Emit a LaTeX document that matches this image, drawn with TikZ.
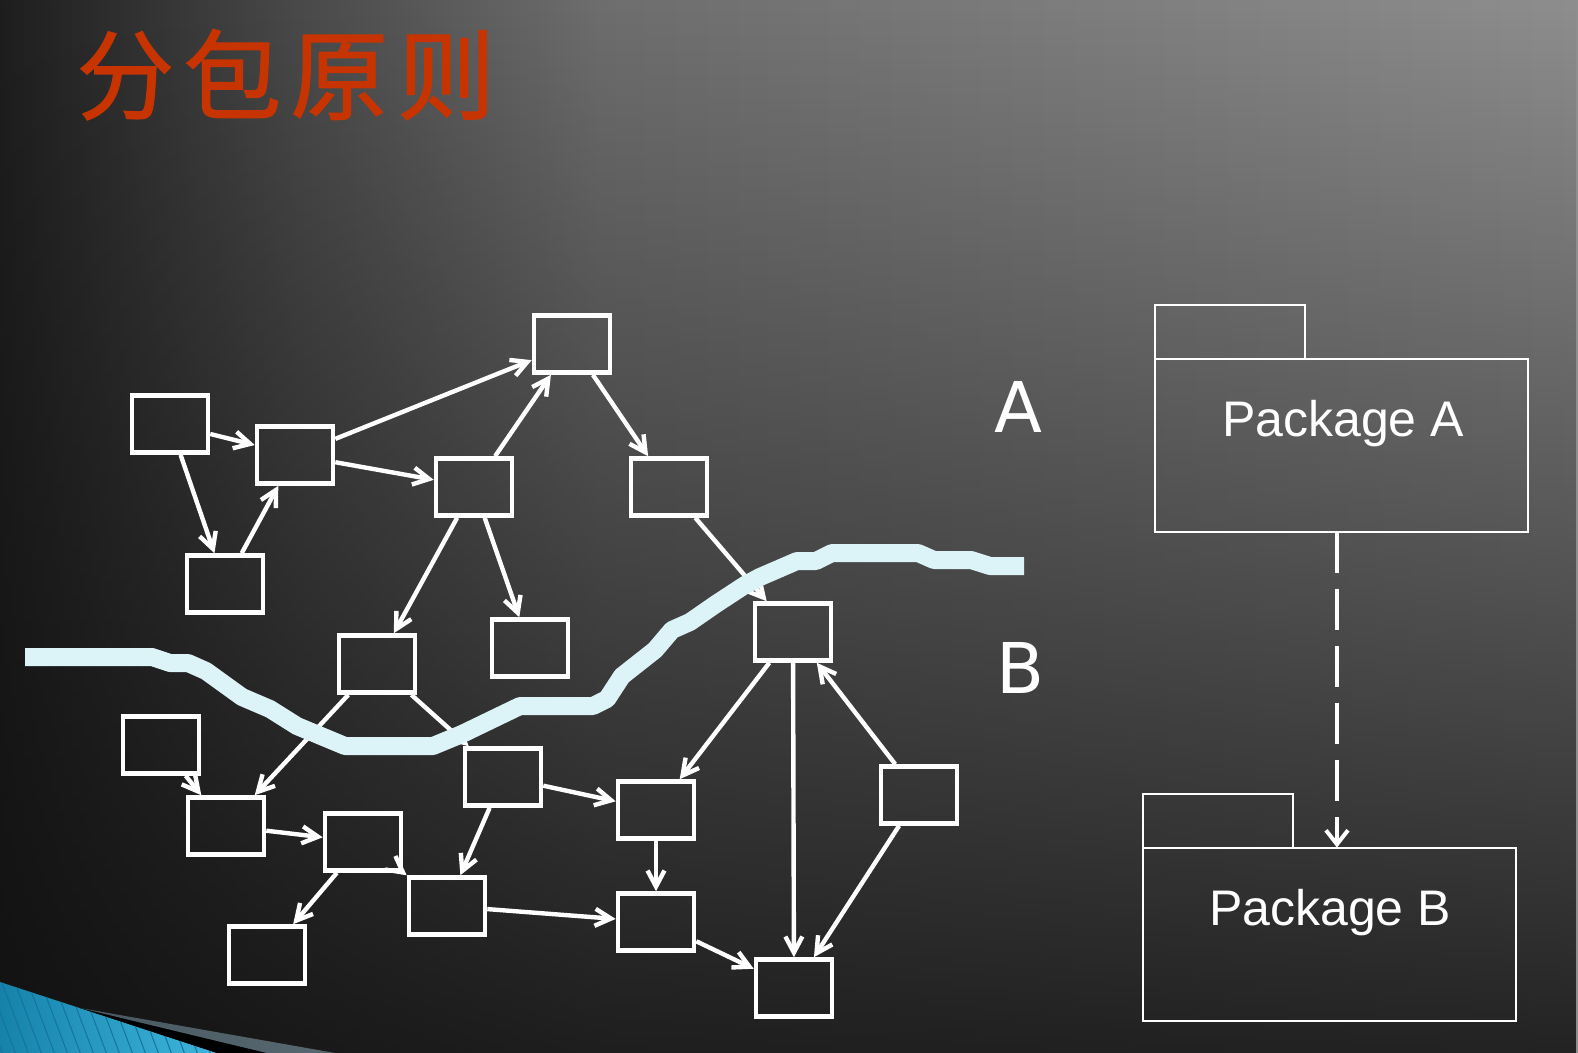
\documentclass[tikz,border=0pt]{standalone}
\usepackage{fontspec}
\usetikzlibrary{arrows.meta,fadings}

\newfontfamily\titlefont{Noto Sans CJK SC}[FakeBold=1.2]
\newfontfamily\layerfont{DejaVu Sans}
\newfontfamily\pkgfont{Liberation Sans}

\definecolor{titlered}{RGB}{200,52,0}
\definecolor{riverblue}{RGB}{220,244,248}
\definecolor{bgdark}{RGB}{30,30,30}
\definecolor{bgmid}{RGB}{74,74,74}
\definecolor{bglight}{RGB}{110,110,110}
\definecolor{bgtop}{RGB}{142,142,142}
\definecolor{bgshadow}{RGB}{16,16,16}
\definecolor{slideblue}{RGB}{22,130,170}
\definecolor{slidebluelight}{RGB}{62,182,222}
\definecolor{slidestripe}{RGB}{20,116,154}
\definecolor{slidegray}{RGB}{72,88,96}
\definecolor{slidegraylight}{RGB}{88,104,112}

\pgfdeclarehorizontalshading{slidebg}{100bp}{color(0bp)=(bgdark); color(25bp)=(bgdark); color(34.5bp)=(bgmid); color(44bp)=(bglight); color(75bp)=(bgtop); color(100bp)=(bgtop)}
\tikzfading[name=slidefade, top color=transparent!100, bottom color=transparent!15]

\tikzset{
    module/.style={draw=white, line width=2.3pt, minimum width=38pt, minimum height=28.5pt, inner sep=0pt},
    uses/.style={draw=white, line width=2.2pt, -{Straight Barb[length=8pt,width=8.5pt]}},
    river/.style={draw=riverblue, line width=9pt, line join=round},
    titletext/.style={anchor=base west, inner sep=0pt, font={\titlefont\fontsize{49pt}{56pt}\selectfont}},
    layerlabel/.style={anchor=base, inner sep=0pt, text=white, font={\layerfont\fontsize{35pt}{40pt}\selectfont}},
    pkgbody/.style={draw=white, line width=1pt, minimum width=186.5pt, minimum height=86.5pt, inner sep=0pt, outer sep=0pt},
    pkgtab/.style={draw=white, line width=1pt, minimum width=75pt, minimum height=27pt, inner sep=0pt, outer sep=0pt, anchor=south west},
    pkglabel/.style={anchor=base, inner sep=0pt, text=white, font={\pkgfont\fontsize{25pt}{30pt}\selectfont}},
    depends/.style={draw=white, line width=2pt, dash pattern=on 20.5pt off 8pt, -{Straight Barb[length=7pt,width=11pt]}}
}

\begin{document}
\begin{tikzpicture}[x=0.5pt, y=-0.5pt]
    \useasboundingbox (0,0) rectangle (1578,1053);

    % Background
    \shade[shading=slidebg] (0,0) rectangle (1578,1053);
    \fill[bgshadow, path fading=slidefade] (0,0) rectangle (1578,1053);

    % Corner decoration (bottom left)
    \begin{scope}
        \clip (0,982) -- (217,1053) -- (0,1053) -- cycle;
        \shade[left color=slideblue, right color=slidebluelight] (0,982) rectangle (217,1053);
        \foreach \s in {-40,-27,...,220}
            \draw[slidestripe, line width=0.5pt] (\s,975) -- (\s+32,1060);
    \end{scope}
    \fill[black] (80,1008) -- (267,1053) -- (217,1053) -- cycle;
    \shade[left color=slidegray, right color=slidegraylight] (80,1008) -- (335,1053) -- (267,1053) -- cycle;

    % Title
    \node[titletext, text=titlered] (title) at (76,112) {分\hspace{4.5pt}包\hspace{4.5pt}原\hspace{4.5pt}则};

    % Classes
    \node[module] (c1) at (170,424) {};
    \node[module] (c2) at (295,455) {};
    \node[module] (c3) at (225,584) {};
    \node[module] (c4) at (572,344) {};
    \node[module] (c5) at (474,487) {};
    \node[module] (c6) at (669,487) {};
    \node[module] (c7) at (530,648) {};
    \node[module] (c8) at (377,664) {};
    \node[module] (c9) at (793,632) {};
    \node[module] (c10) at (161,745) {};
    \node[module] (c11) at (226,826) {};
    \node[module] (c12) at (503,777) {};
    \node[module] (c13) at (656,810) {};
    \node[module] (c14) at (919,795) {};
    \node[module] (c15) at (363,842) {};
    \node[module] (c16) at (447,906) {};
    \node[module] (c17) at (656,922) {};
    \node[module] (c18) at (267,955) {};
    \node[module] (c19) at (794,988) {};

    % Dependencies
    \draw[uses] (c1) -- (c2);
    \draw[uses] (c1) -- (c3);
    \draw[uses] (c3) -- (c2);
    \draw[uses] (c2) -- (c4);
    \draw[uses] (c2) -- (c5);
    \draw[uses] (c5) -- (c4);
    \draw[uses] (c4) -- (c6);
    \draw[uses] (c5) -- (c8);
    \draw[uses] (c5) -- (c7);
    \draw[uses] (c6) -- (c9);
    \draw[uses] (c8) -- (c11);
    \draw[uses] (c8) -- (c12);
    \draw[uses] (c9) -- (c13);
    \draw[uses] (c9) -- (c19);
    \draw[uses] (c14) -- (c9);
    \draw[uses] (c14) -- (c19);
    \draw[uses] (c12) -- (c13);
    \draw[uses] (c12) -- (c16);
    \draw[uses] (c13) -- (c17);
    \draw[uses] (c16) -- (c17);
    \draw[uses] (c17) -- (c19);
    \draw[uses] (c10) -- (c11);
    \draw[uses] (c11) -- (c15);
    \draw[uses] (c15) -- (c16);
    \draw[uses] (c15) -- (c18);

    % Boundary between the two packages
    \draw[river] (25,657) -- (152,657) -- (170,663) -- (188,663) -- (206,671) -- (242,697)
        -- (270,709) -- (297,726) -- (345,746) -- (433,746) -- (462,734) -- (520,706)
        -- (593,706) -- (607,699) -- (622,676) -- (655,650) -- (672,630) -- (690,622)
        -- (716,604) -- (745,585) -- (760,577) -- (797,561) -- (816,561) -- (832,553)
        -- (918,553) -- (934,560) -- (971,560) -- (990,566) -- (1024,566);

    \node[layerlabel] (layerA) at (1018,432) {A};
    \node[layerlabel] (layerB) at (1020,693) {B};

    % Package A (top)
    \node[pkgbody] (pkgA) at (1341.5,445.5) {};
    \node[pkgtab] (pkgAtab) at (pkgA.north west) {};
    \node[pkglabel] (pkgAname) at (1343,437) {Package A};

    % Package B (bottom)
    \node[pkgbody] (pkgB) at (1329.5,934) {};
    \node[pkgtab] (pkgBtab) at (pkgB.north west) {};
    \node[pkglabel] (pkgBname) at (1330,925) {Package B};

    \draw[depends] (pkgA.-93) -- (pkgA.-93 |- pkgB.north);
\end{tikzpicture}
\end{document}
